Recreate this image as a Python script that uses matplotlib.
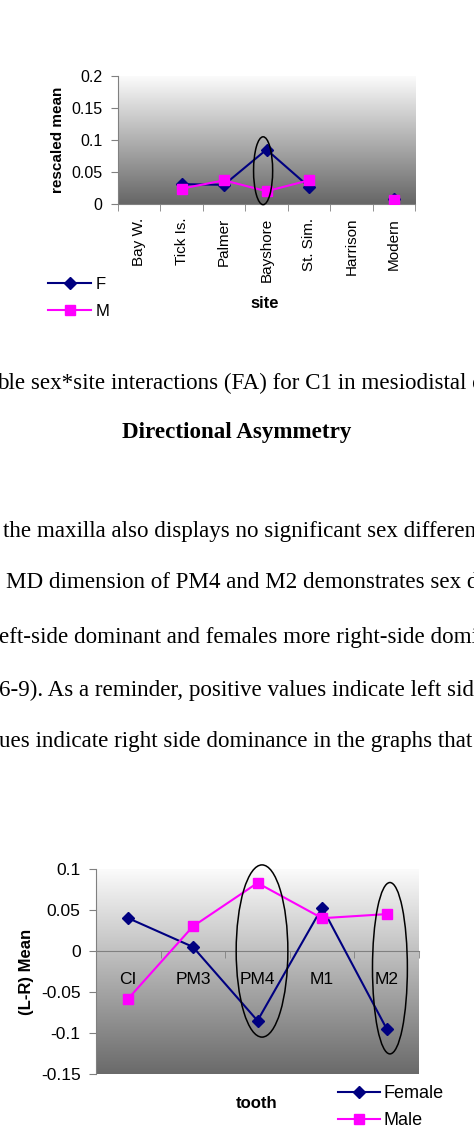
#!/usr/bin/env python3
"""
Page scan recreation: FA sex*site plot, text block, DA plot by tooth.
"""

import numpy as np
import matplotlib
matplotlib.use('Agg')
import matplotlib.pyplot as plt
from matplotlib.colors import LinearSegmentedColormap
from matplotlib.patches import Ellipse

# --- data: top chart (rescaled mean by site) ---
sites = ["Bay W.", "Tick Is.", "Palmer", "Bayshore", "St. Sim.", "Harrison", "Modern"]
fa_female = [np.nan, 0.031, 0.030, 0.085, 0.027, np.nan, 0.008]
fa_male = [np.nan, 0.024, 0.037, 0.020, 0.037, np.nan, 0.006]
fa_yticks = [0, 0.05, 0.1, 0.15, 0.2]
fa_yticklabels = ["0", "0.05", "0.1", "0.15", "0.2"]
# circled site: (category index, x offset, y centre, width, height)
fa_circles = [(3, -0.08, 0.052, 0.45, 0.106)]

# --- data: bottom chart ((L-R) mean by tooth) ---
teeth = ["CI", "PM3", "PM4", "M1", "M2"]
da_female = [0.040, 0.005, -0.085, 0.053, -0.095]
da_male = [-0.058, 0.030, 0.083, 0.040, 0.045]
da_yticks = [-0.15, -0.1, -0.05, 0, 0.05, 0.1]
da_yticklabels = ["-0.15", "-0.1", "-0.05", "0", "0.05", "0.1"]
da_circles = [(2, 0.07, 0.0, 0.80, 0.21), (4, 0.05, -0.021, 0.54, 0.209)]

# --- page text lines: (text, x px, y px, bold, ha) ---
page_lines = [
    ("ble sex*site interactions (FA) for C1 in mesiodistal d", -3, 383, False, "left"),
    ("Directional Asymmetry", 237, 433, True, "center"),
    ("the maxilla also displays no significant sex difference", 3, 532, False, "left"),
    ("MD dimension of PM4 and M2 demonstrates sex d", 6, 583, False, "left"),
    ("eft-side dominant and females more right-side domi", -1, 637, False, "left"),
    ("6-9). As a reminder, positive values indicate left sid", -1, 690, False, "left"),
    ("ues indicate right side dominance in the graphs that f", -1, 742, False, "left"),
]

W, H = 474, 1137
NAVY = "#000080"
MAGENTA = "#ff00ff"
SPINE = "#808080"
SANS = ["Liberation Sans", "DejaVu Sans"]
SERIF = ["Liberation Serif", "DejaVu Serif"]

plt.rcParams['font.family'] = SANS

fig = plt.figure(figsize=(W / 100, H / 100), dpi=100)
fig.patch.set_facecolor("white")


def px_axes(left, top, right, bottom):
    return fig.add_axes([left / W, 1 - bottom / H, (right - left) / W, (bottom - top) / H])


def gradient(ax, bottom_color):
    cmap = LinearSegmentedColormap.from_list("g", ["#fbfbfb", bottom_color])
    grad = np.linspace(0, 1, 256).reshape(-1, 1)
    ax.imshow(grad, cmap=cmap, extent=[0, 1, 0, 1], transform=ax.transAxes,
              aspect="auto", zorder=0, origin="upper")


def style_axes(ax, n, fs, pad):
    for s in ["top", "right"]:
        ax.spines[s].set_visible(False)
    for s in ["left", "bottom"]:
        ax.spines[s].set_color(SPINE)
        ax.spines[s].set_linewidth(0.8)
    ax.set_xticks(np.arange(n))
    ax.set_xticks(np.arange(n + 1) - 0.5, minor=True)
    ax.tick_params(axis="x", which="major", length=0)
    ax.tick_params(axis="x", which="minor", length=5, color=SPINE, direction="out")
    ax.tick_params(axis="y", length=5, color=SPINE, direction="out", labelsize=fs, pad=pad)


# ---------------- top chart ----------------
ax1 = px_axes(118, 76, 415, 204)
gradient(ax1, "#666666")
x1 = np.arange(len(sites))
ax1.plot(x1, fa_female, color=NAVY, lw=1.5, marker="D", ms=6, label="F", zorder=3)
ax1.plot(x1, fa_male, color=MAGENTA, lw=1.5, marker="s", ms=6.5, label="M", zorder=3)
for idx, dx, yc, w, h in fa_circles:
    ax1.add_patch(Ellipse((idx + dx, yc), w, h, fill=False, ec="black", lw=1.1, zorder=4,
                          clip_on=False))
style_axes(ax1, len(sites), 11.5, 6)
ax1.set_xlim(-0.5, len(sites) - 0.5)
ax1.set_ylim(0, 0.2)
ax1.set_yticks(fa_yticks)
ax1.set_yticklabels(fa_yticklabels)
ax1.set_xticklabels(sites, rotation=90, fontsize=11, va="top", ha="center")
ax1.tick_params(axis="x", which="major", pad=10)
ax1.set_ylabel("rescaled mean", fontsize=11, fontweight="bold", labelpad=5)
fig.text(265 / W, 1 - 304 / H, "site", fontsize=12, fontweight="bold", ha="center", va="center")
fig.legend(handles=ax1.get_lines()[:2], loc="center left", bbox_to_anchor=(48 / W, 1 - 298 / H),
           frameon=False, fontsize=12, borderpad=0, borderaxespad=0, handlelength=2.6,
           handletextpad=0.25, labelspacing=0.75)

# ---------------- page text ----------------
for text, x, y, bold, ha in page_lines:
    fig.text(x / W, 1 - y / H, text, family=SERIF, fontsize=16.6,
             fontweight="bold" if bold else "normal", ha=ha, va="center")

# ---------------- bottom chart ----------------
ax2 = px_axes(96, 869, 419, 1074)
gradient(ax2, "#6a6a6a")
x2 = np.arange(len(teeth))
ax2.plot(x2, da_female, color=NAVY, lw=1.5, marker="D", ms=6, label="Female", zorder=3)
ax2.plot(x2, da_male, color=MAGENTA, lw=1.5, marker="s", ms=6.5, label="Male", zorder=3)
for idx, dx, yc, w, h in da_circles:
    ax2.add_patch(Ellipse((idx + dx, yc), w, h, fill=False, ec="black", lw=1.1, zorder=4,
                          clip_on=False))
style_axes(ax2, len(teeth), 12.5, 6)
ax2.spines["bottom"].set_position(("data", 0))
ax2.set_xlim(-0.5, len(teeth) - 0.5)
ax2.set_ylim(-0.15, 0.1)
ax2.set_yticks(da_yticks)
ax2.set_yticklabels(da_yticklabels)
ax2.set_xticklabels(teeth, fontsize=12.5)
ax2.tick_params(axis="x", which="major", pad=15)
ax2.set_ylabel("(L-R) Mean", fontsize=12, fontweight="bold", labelpad=5)
fig.text(257 / W, 1 - 1103 / H, "tooth", fontsize=12, fontweight="bold", ha="center", va="center")
fig.legend(handles=ax2.get_lines()[:2], loc="center left", bbox_to_anchor=(338 / W, 1 - 1107 / H),
           frameon=False, fontsize=13, borderpad=0, borderaxespad=0, handlelength=2.3,
           handletextpad=0.2, labelspacing=0.55)

fig.savefig("out.png", dpi=100)
plt.close(fig)
